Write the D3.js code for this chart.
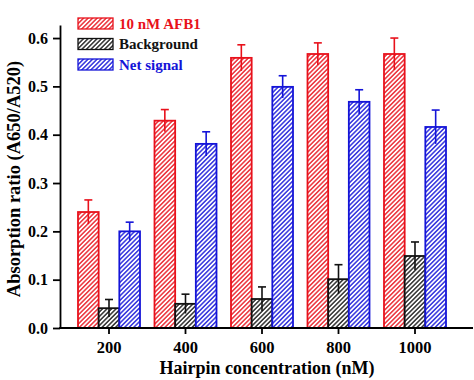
<!DOCTYPE html>
<html>
<head>
<meta charset="utf-8">
<script src="https://cdn.jsdelivr.net/npm/d3@7"></script>
<style>
  html, body { margin: 0; padding: 0; background: #fff; }
  svg { display: block; font-family: "Liberation Serif", "Times New Roman", serif; font-weight: bold; }
</style>
</head>
<body>
<div id="chart"></div>
<script>
// categories (hairpin concentration, nM)
const concentrations = ["200", "400", "600", "800", "1000"];
// series names
const seriesNames = ["10 nM AFB1", "Background", "Net signal"];
const seriesColors = ["#e8111b", "#111111", "#1414d8"];
// bar values
const afb1Values = [0.240, 0.429, 0.559, 0.567, 0.567];
const backgroundValues = [0.041, 0.050, 0.060, 0.101, 0.149];
const netValues = [0.200, 0.381, 0.499, 0.468, 0.416];
// error bars (half-width)
const afb1Errors = [0.025, 0.023, 0.027, 0.023, 0.033];
const backgroundErrors = [0.018, 0.020, 0.025, 0.030, 0.029];
const netErrors = [0.019, 0.025, 0.023, 0.025, 0.035];
// y ticks
const yTicks = [0, 0.1, 0.2, 0.3, 0.4, 0.5, 0.6];

const W = 474, H = 380;
const svg = d3.select("#chart").append("svg")
  .attr("width", W).attr("height", H);

/** Hatch patterns, one per series colour. */
const defs = svg.append("defs");
seriesColors.forEach((c, i) => {
  const p = defs.append("pattern")
    .attr("id", "hatch" + i)
    .attr("patternUnits", "userSpaceOnUse")
    .attr("width", 3.2).attr("height", 3.2)
    .attr("patternTransform", "rotate(45)");
  p.append("rect").attr("width", 3.2).attr("height", 3.2).attr("fill", "#fff");
  p.append("line")
    .attr("x1", 0.8).attr("y1", 0).attr("x2", 0.8).attr("y2", 3.2)
    .attr("stroke", c).attr("stroke-width", 1.3);
});

const axisX = 60, baseY = 328;
const y = d3.scaleLinear().domain([0, 0.627]).range([baseY, 25]);
const x0 = d3.scaleBand().domain(concentrations).range([70.75, 453.25]);
const groupW = 62;
const x1 = d3.scaleBand().domain(seriesNames)
  .range([(x0.bandwidth() - groupW) / 2, (x0.bandwidth() + groupW) / 2]);

const rows = concentrations.map((c, i) => ({
  cat: c,
  bars: [
    { s: 0, v: afb1Values[i], e: afb1Errors[i] },
    { s: 1, v: backgroundValues[i], e: backgroundErrors[i] },
    { s: 2, v: netValues[i], e: netErrors[i] },
  ],
}));

const groups = svg.append("g").selectAll("g")
  .data(rows).join("g")
  .attr("transform", (d) => `translate(${x0(d.cat)},0)`);

const bar = groups.selectAll("g").data((d) => d.bars).join("g");
bar.append("rect")
  .attr("x", (d) => x1(seriesNames[d.s]))
  .attr("y", (d) => y(d.v))
  .attr("width", x1.bandwidth())
  .attr("height", (d) => y(0) - y(d.v))
  .attr("fill", (d) => `url(#hatch${d.s})`)
  .attr("stroke", (d) => seriesColors[d.s])
  .attr("stroke-width", 1.8);

// error bars: line through the bar top, cap on the upper end only
bar.append("line")
  .attr("x1", (d) => x1(seriesNames[d.s]) + x1.bandwidth() / 2)
  .attr("x2", (d) => x1(seriesNames[d.s]) + x1.bandwidth() / 2)
  .attr("y1", (d) => y(d.v - d.e))
  .attr("y2", (d) => y(d.v + d.e))
  .attr("stroke", (d) => seriesColors[d.s]).attr("stroke-width", 1.6);
bar.append("line")
  .attr("x1", (d) => x1(seriesNames[d.s]) + x1.bandwidth() / 2 - 4)
  .attr("x2", (d) => x1(seriesNames[d.s]) + x1.bandwidth() / 2 + 4)
  .attr("y1", (d) => y(d.v + d.e))
  .attr("y2", (d) => y(d.v + d.e))
  .attr("stroke", (d) => seriesColors[d.s]).attr("stroke-width", 1.6);

/** Y axis. */
const yAxis = svg.append("g")
  .attr("transform", `translate(${axisX},0)`)
  .call(d3.axisLeft(y).tickValues(yTicks).tickFormat(d3.format(".1f"))
    .tickSize(7).tickSizeOuter(0).tickPadding(5));
yAxis.select(".domain").attr("stroke", "#000").attr("stroke-width", 1.8);
yAxis.selectAll(".tick line").attr("stroke", "#000").attr("stroke-width", 1.8);
yAxis.selectAll(".tick text")
  .attr("font-family", "Liberation Serif").attr("font-weight", "bold")
  .attr("font-size", 16).attr("fill", "#000");

/** X axis. */
const xAxis = svg.append("g")
  .attr("transform", `translate(0,${baseY})`)
  .call(d3.axisBottom(x0).tickSize(6).tickSizeOuter(0).tickPadding(7));
xAxis.select(".domain").remove();
xAxis.selectAll(".tick line").attr("stroke", "#000").attr("stroke-width", 1.8);
xAxis.selectAll(".tick text")
  .attr("font-family", "Liberation Serif").attr("font-weight", "bold")
  .attr("font-size", 16.5).attr("fill", "#000");
svg.append("line")
  .attr("x1", axisX - 0.9).attr("x2", 473)
  .attr("y1", baseY).attr("y2", baseY)
  .attr("stroke", "#000").attr("stroke-width", 1.8);

/** Axis titles. */
svg.append("text")
  .attr("x", 267).attr("y", 374)
  .attr("text-anchor", "middle").attr("font-size", 18)
  .text("Hairpin concentration (nM)");
svg.append("text")
  .attr("transform", "translate(19.5,179) rotate(-90)")
  .attr("text-anchor", "middle").attr("font-size", 18.5)
  .text("Absorption ratio (A650/A520)");

/** Legend. */
const legend = svg.append("g").attr("transform", "translate(78,18)");
const item = legend.selectAll("g").data(seriesNames).join("g")
  .attr("transform", (d, i) => `translate(0,${i * 20.5})`);
item.append("rect")
  .attr("width", 35).attr("height", 11)
  .attr("fill", (d, i) => `url(#hatch${i})`)
  .attr("stroke", (d, i) => seriesColors[i]).attr("stroke-width", 1.3);
item.append("text")
  .attr("x", 41).attr("y", 10.5)
  .attr("font-size", 15)
  .attr("fill", (d, i) => seriesColors[i])
  .text((d) => d);
</script>
</body>
</html>
